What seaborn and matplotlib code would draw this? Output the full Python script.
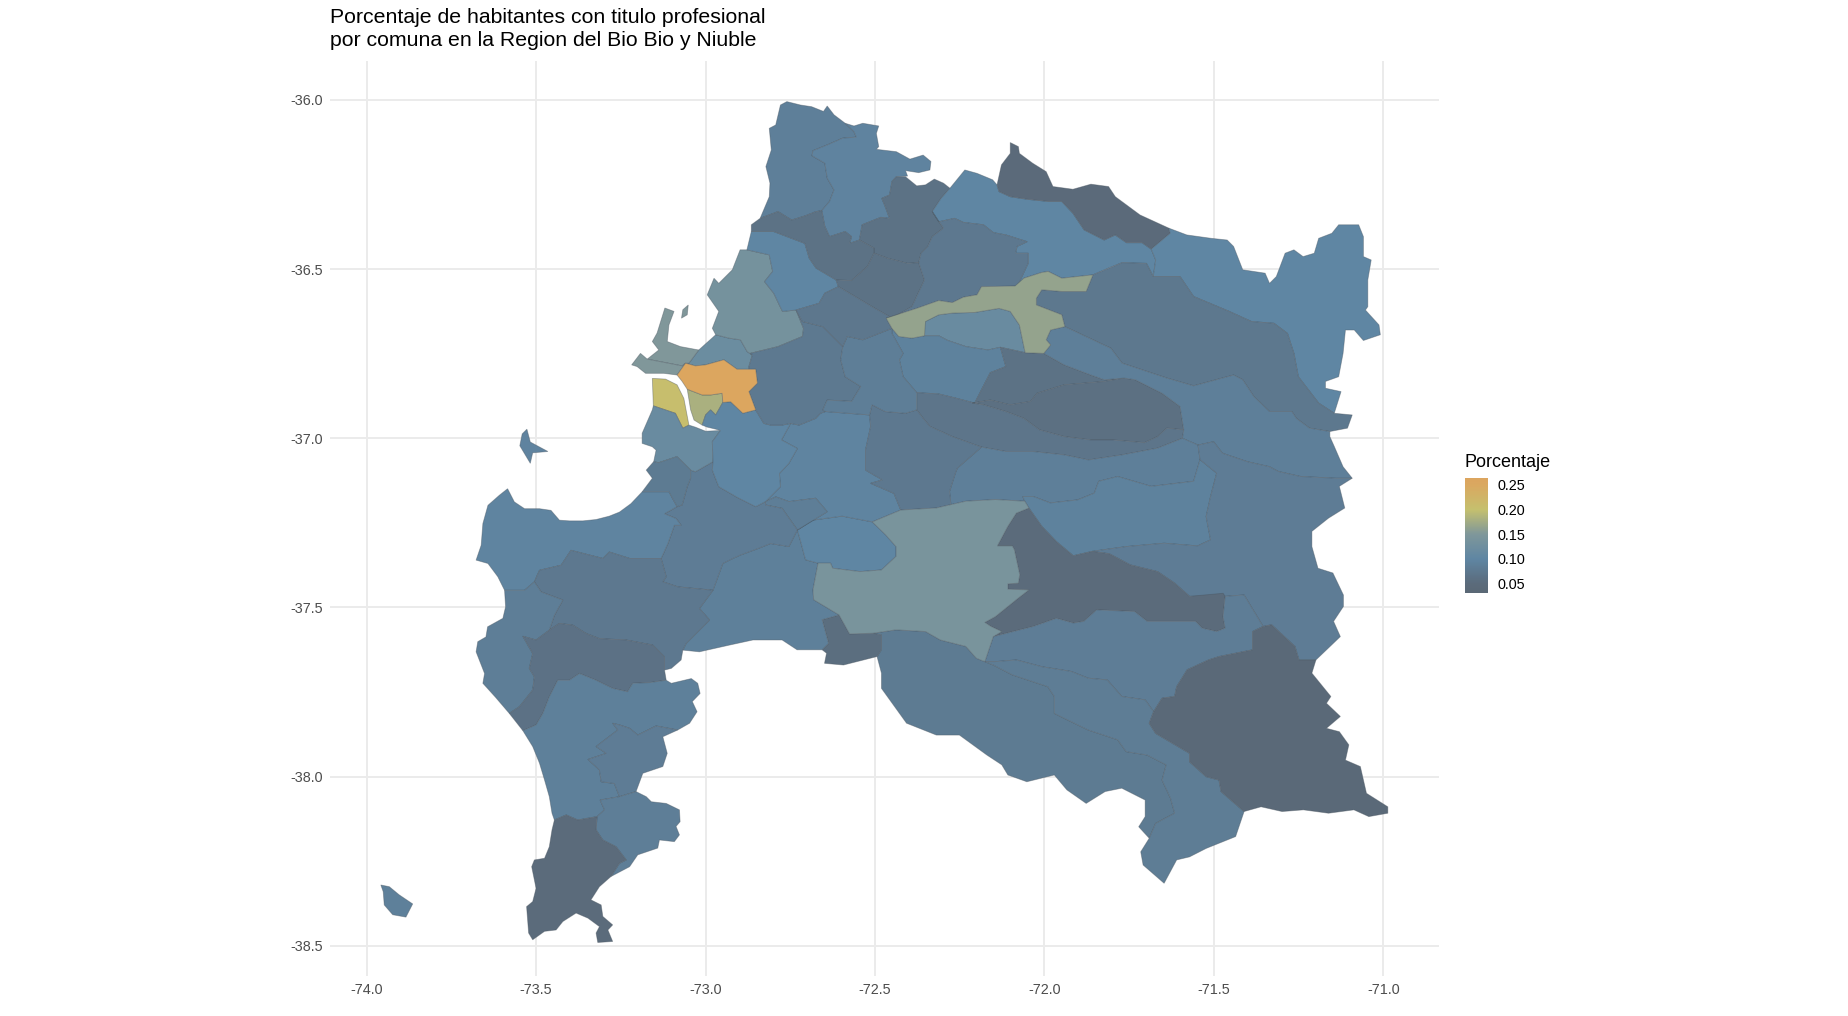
import matplotlib
matplotlib.use("Agg")
import matplotlib.pyplot as plt
from matplotlib.colors import LinearSegmentedColormap, Normalize
from matplotlib.cm import ScalarMappable
import seaborn as sns

# commune outlines, (lon, lat)
cobquecura = [(-72.779,-36.015),(-72.760,-36.005),(-72.720,-36.015),(-72.687,-36.020),(-72.652,-36.034),(-72.641,-36.018),(-72.621,-36.044),(-72.588,-36.069),(-72.562,-36.094),(-72.555,-36.110),(-72.595,-36.113),(-72.641,-36.133),(-72.683,-36.150),(-72.686,-36.165),(-72.648,-36.187),(-72.641,-36.231),(-72.621,-36.266),(-72.634,-36.300),(-72.657,-36.327),(-72.674,-36.330),(-72.707,-36.343),(-72.746,-36.355),(-72.786,-36.330),(-72.839,-36.350),(-72.812,-36.286),(-72.810,-36.246),(-72.822,-36.197),(-72.806,-36.148),(-72.812,-36.084),(-72.793,-36.074)]
quirihue = [(-72.588,-36.069),(-72.562,-36.077),(-72.536,-36.069),(-72.489,-36.077),(-72.496,-36.099),(-72.489,-36.138),(-72.496,-36.146),(-72.437,-36.153),(-72.397,-36.175),(-72.358,-36.163),(-72.335,-36.182),(-72.338,-36.207),(-72.371,-36.215),(-72.410,-36.209),(-72.404,-36.225),(-72.437,-36.227),(-72.450,-36.241),(-72.457,-36.281),(-72.480,-36.291),(-72.470,-36.315),(-72.457,-36.350),(-72.483,-36.347),(-72.538,-36.369),(-72.546,-36.414),(-72.575,-36.424),(-72.569,-36.404),(-72.588,-36.389),(-72.634,-36.404),(-72.648,-36.374),(-72.657,-36.327),(-72.634,-36.300),(-72.621,-36.266),(-72.641,-36.231),(-72.648,-36.187),(-72.686,-36.165),(-72.683,-36.150),(-72.641,-36.133),(-72.595,-36.113),(-72.555,-36.110),(-72.562,-36.094)]
san_carlos_n = [(-72.437,-36.227),(-72.410,-36.227),(-72.377,-36.254),(-72.351,-36.251),(-72.325,-36.234),(-72.298,-36.246),(-72.279,-36.261),(-72.305,-36.291),(-72.331,-36.330),(-72.298,-36.379),(-72.331,-36.404),(-72.344,-36.433),(-72.364,-36.453),(-72.371,-36.481),(-72.404,-36.483),(-72.463,-36.468),(-72.503,-36.453),(-72.503,-36.438),(-72.546,-36.414),(-72.538,-36.369),(-72.483,-36.347),(-72.457,-36.350),(-72.470,-36.315),(-72.480,-36.291),(-72.457,-36.281),(-72.450,-36.241)]
coihueco = [(-72.279,-36.261),(-72.235,-36.207),(-72.199,-36.217),(-72.153,-36.236),(-72.140,-36.251),(-72.134,-36.271),(-72.101,-36.286),(-72.048,-36.294),(-71.989,-36.300),(-71.949,-36.300),(-71.916,-36.335),(-71.883,-36.384),(-71.824,-36.414),(-71.791,-36.399),(-71.758,-36.422),(-71.712,-36.422),(-71.685,-36.441),(-71.672,-36.473),(-71.679,-36.522),(-71.699,-36.483),(-71.771,-36.481),(-71.811,-36.497),(-71.857,-36.517),(-71.949,-36.527),(-71.989,-36.507),(-72.008,-36.510),(-72.061,-36.527),(-72.081,-36.552),(-72.048,-36.483),(-72.048,-36.453),(-72.085,-36.453),(-72.081,-36.433),(-72.051,-36.419),(-72.114,-36.399),(-72.151,-36.392),(-72.180,-36.369),(-72.239,-36.362),(-72.265,-36.350),(-72.312,-36.360),(-72.331,-36.330),(-72.305,-36.291)]
san_fabian = [(-72.101,-36.126),(-72.077,-36.138),(-72.074,-36.158),(-72.035,-36.187),(-71.995,-36.212),(-71.975,-36.256),(-71.916,-36.264),(-71.863,-36.249),(-71.811,-36.256),(-71.791,-36.286),(-71.718,-36.340),(-71.633,-36.379),(-71.629,-36.394),(-71.685,-36.441),(-71.712,-36.422),(-71.758,-36.422),(-71.791,-36.399),(-71.824,-36.414),(-71.883,-36.384),(-71.916,-36.335),(-71.949,-36.300),(-71.989,-36.300),(-72.048,-36.294),(-72.101,-36.286),(-72.134,-36.271),(-72.140,-36.251),(-72.127,-36.192),(-72.101,-36.158)]
pinto = [(-71.633,-36.379),(-71.580,-36.399),(-71.508,-36.409),(-71.461,-36.414),(-71.442,-36.433),(-71.415,-36.502),(-71.349,-36.512),(-71.336,-36.542),(-71.316,-36.522),(-71.290,-36.453),(-71.264,-36.443),(-71.237,-36.463),(-71.204,-36.453),(-71.191,-36.409),(-71.152,-36.394),(-71.132,-36.369),(-71.073,-36.369),(-71.059,-36.404),(-71.059,-36.463),(-71.036,-36.473),(-71.046,-36.532),(-71.046,-36.611),(-71.053,-36.621),(-71.013,-36.665),(-71.009,-36.694),(-71.059,-36.711),(-71.086,-36.680),(-71.112,-36.680),(-71.119,-36.749),(-71.132,-36.818),(-71.171,-36.832),(-71.171,-36.852),(-71.125,-36.862),(-71.145,-36.926),(-71.191,-36.896),(-71.251,-36.818),(-71.264,-36.749),(-71.283,-36.690),(-71.323,-36.660),(-71.389,-36.655),(-71.455,-36.625),(-71.560,-36.581),(-71.600,-36.522),(-71.679,-36.522),(-71.672,-36.473),(-71.685,-36.441),(-71.629,-36.394)]
el_carmen = [(-72.024,-36.586),(-72.008,-36.561),(-71.949,-36.566),(-71.877,-36.566),(-71.857,-36.517),(-71.771,-36.481),(-71.699,-36.483),(-71.679,-36.522),(-71.600,-36.522),(-71.560,-36.581),(-71.455,-36.625),(-71.389,-36.655),(-71.323,-36.660),(-71.283,-36.690),(-71.264,-36.749),(-71.251,-36.818),(-71.191,-36.896),(-71.145,-36.926),(-71.092,-36.931),(-71.106,-36.970),(-71.158,-36.980),(-71.218,-36.970),(-71.257,-36.941),(-71.270,-36.921),(-71.336,-36.921),(-71.382,-36.877),(-71.415,-36.827),(-71.442,-36.813),(-71.560,-36.845),(-71.639,-36.822),(-71.771,-36.778),(-71.804,-36.734),(-71.940,-36.670),(-71.949,-36.635),(-72.024,-36.606)]
chillan_viejo = [(-72.467,-36.645),(-72.377,-36.616),(-72.312,-36.593),(-72.272,-36.599),(-72.239,-36.583),(-72.199,-36.576),(-72.186,-36.552),(-72.087,-36.550),(-72.061,-36.527),(-72.008,-36.510),(-71.989,-36.507),(-71.949,-36.527),(-71.857,-36.517),(-71.877,-36.566),(-71.949,-36.566),(-72.008,-36.561),(-72.024,-36.586),(-72.024,-36.606),(-71.949,-36.635),(-71.940,-36.670),(-71.982,-36.680),(-71.995,-36.709),(-71.982,-36.724),(-72.002,-36.749),(-72.057,-36.747),(-72.074,-36.665),(-72.101,-36.625),(-72.134,-36.616),(-72.206,-36.628),(-72.272,-36.630),(-72.312,-36.635),(-72.351,-36.655),(-72.354,-36.697),(-72.391,-36.704),(-72.430,-36.699),(-72.450,-36.675)]
chillan = [(-72.354,-36.655),(-72.312,-36.635),(-72.272,-36.630),(-72.206,-36.628),(-72.134,-36.616),(-72.101,-36.625),(-72.074,-36.665),(-72.057,-36.747),(-72.130,-36.731),(-72.167,-36.739),(-72.232,-36.729),(-72.285,-36.711),(-72.312,-36.697),(-72.354,-36.697)]
bulnes = [(-72.450,-36.675),(-72.430,-36.699),(-72.391,-36.704),(-72.354,-36.697),(-72.312,-36.697),(-72.285,-36.711),(-72.232,-36.729),(-72.167,-36.739),(-72.130,-36.731),(-72.114,-36.788),(-72.160,-36.806),(-72.206,-36.896),(-72.259,-36.882),(-72.312,-36.869),(-72.377,-36.865),(-72.417,-36.818),(-72.428,-36.768),(-72.417,-36.749),(-72.450,-36.690)]
pemuco = [(-72.130,-36.731),(-72.057,-36.747),(-72.002,-36.749),(-71.942,-36.783),(-71.863,-36.813),(-71.824,-36.827),(-71.765,-36.822),(-71.824,-36.832),(-71.942,-36.842),(-72.022,-36.867),(-72.041,-36.891),(-72.101,-36.901),(-72.160,-36.887),(-72.213,-36.896),(-72.206,-36.896),(-72.160,-36.806),(-72.114,-36.788)]
el_carmen_s = [(-72.213,-36.896),(-72.160,-36.887),(-72.101,-36.901),(-72.041,-36.891),(-72.022,-36.867),(-71.942,-36.842),(-71.824,-36.832),(-71.765,-36.822),(-71.732,-36.827),(-71.653,-36.867),(-71.600,-36.906),(-71.589,-36.975),(-71.639,-36.970),(-71.666,-36.995),(-71.705,-37.013),(-71.798,-37.005),(-71.863,-37.005),(-71.942,-36.995),(-72.015,-36.975),(-72.061,-36.941),(-72.114,-36.921),(-72.180,-36.901)]
pemuco_s = [(-72.377,-36.865),(-72.312,-36.869),(-72.259,-36.882),(-72.206,-36.896),(-72.213,-36.896),(-72.180,-36.901),(-72.114,-36.921),(-72.061,-36.941),(-72.015,-36.975),(-71.942,-36.995),(-71.863,-37.005),(-71.798,-37.005),(-71.705,-37.013),(-71.666,-36.995),(-71.639,-36.970),(-71.589,-36.975),(-71.593,-37.000),(-71.666,-37.029),(-71.771,-37.049),(-71.870,-37.064),(-71.942,-37.049),(-72.035,-37.039),(-72.114,-37.039),(-72.186,-37.026),(-72.272,-36.995),(-72.338,-36.965),(-72.358,-36.941),(-72.377,-36.916)]
yungay = [(-72.002,-36.749),(-71.982,-36.724),(-71.995,-36.709),(-71.982,-36.680),(-71.940,-36.670),(-71.804,-36.734),(-71.771,-36.778),(-71.639,-36.822),(-71.560,-36.845),(-71.442,-36.813),(-71.415,-36.827),(-71.382,-36.877),(-71.336,-36.921),(-71.270,-36.921),(-71.257,-36.941),(-71.218,-36.970),(-71.158,-36.980),(-71.158,-36.995),(-71.145,-37.024),(-71.119,-37.084),(-71.092,-37.118),(-71.139,-37.118),(-71.244,-37.113),(-71.310,-37.098),(-71.336,-37.084),(-71.402,-37.069),(-71.475,-37.044),(-71.501,-37.010),(-71.547,-37.020),(-71.593,-37.000),(-71.589,-36.975),(-71.600,-36.906),(-71.653,-36.867),(-71.732,-36.827),(-71.765,-36.822),(-71.824,-36.827),(-71.863,-36.813),(-71.942,-36.783)]
tucapel = [(-72.186,-37.026),(-72.114,-37.039),(-72.035,-37.039),(-71.942,-37.049),(-71.870,-37.064),(-71.771,-37.049),(-71.666,-37.029),(-71.593,-37.000),(-71.547,-37.020),(-71.541,-37.063),(-71.560,-37.127),(-71.685,-37.142),(-71.784,-37.113),(-71.840,-37.127),(-71.853,-37.162),(-71.902,-37.182),(-71.983,-37.191),(-72.033,-37.172),(-72.064,-37.172),(-72.058,-37.186),(-72.145,-37.181),(-72.232,-37.186),(-72.276,-37.196),(-72.280,-37.157),(-72.263,-37.103),(-72.257,-37.088)]
antuco_w = [(-72.064,-37.172),(-72.033,-37.172),(-71.983,-37.191),(-71.902,-37.182),(-71.853,-37.162),(-71.840,-37.127),(-71.784,-37.113),(-71.685,-37.142),(-71.560,-37.127),(-71.541,-37.063),(-71.492,-37.103),(-71.510,-37.172),(-71.523,-37.231),(-71.510,-37.300),(-71.548,-37.318),(-71.647,-37.310),(-71.759,-37.320),(-71.859,-37.334),(-71.915,-37.347),(-71.965,-37.305),(-72.008,-37.260),(-72.046,-37.206),(-72.058,-37.186)]
antuco = [(-71.547,-37.020),(-71.501,-37.010),(-71.475,-37.044),(-71.402,-37.069),(-71.336,-37.084),(-71.310,-37.098),(-71.244,-37.113),(-71.139,-37.118),(-71.092,-37.118),(-71.130,-37.142),(-71.114,-37.206),(-71.162,-37.236),(-71.211,-37.275),(-71.211,-37.320),(-71.193,-37.384),(-71.149,-37.398),(-71.118,-37.463),(-71.118,-37.497),(-71.147,-37.541),(-71.127,-37.586),(-71.199,-37.655),(-71.249,-37.655),(-71.261,-37.615),(-71.330,-37.551),(-71.355,-37.556),(-71.411,-37.463),(-71.467,-37.467),(-71.572,-37.467),(-71.616,-37.428),(-71.666,-37.394),(-71.747,-37.374),(-71.809,-37.341),(-71.859,-37.334),(-71.759,-37.320),(-71.647,-37.310),(-71.548,-37.318),(-71.510,-37.300),(-71.523,-37.231),(-71.510,-37.172),(-71.492,-37.103),(-71.541,-37.063)]
quilleco = [(-72.083,-37.221),(-72.046,-37.206),(-72.008,-37.260),(-71.965,-37.305),(-71.915,-37.347),(-71.859,-37.334),(-71.809,-37.341),(-71.747,-37.374),(-71.666,-37.394),(-71.616,-37.428),(-71.572,-37.467),(-71.473,-37.458),(-71.467,-37.467),(-71.473,-37.527),(-71.467,-37.561),(-71.492,-37.571),(-71.535,-37.561),(-71.554,-37.541),(-71.647,-37.541),(-71.697,-37.541),(-71.734,-37.512),(-71.846,-37.507),(-71.884,-37.541),(-71.915,-37.546),(-71.965,-37.532),(-72.033,-37.556),(-72.151,-37.586),(-72.126,-37.571),(-72.158,-37.556),(-72.176,-37.544),(-72.145,-37.527),(-72.077,-37.472),(-72.046,-37.448),(-72.108,-37.446),(-72.108,-37.430),(-72.077,-37.428),(-72.073,-37.403),(-72.089,-37.329),(-72.095,-37.318),(-72.139,-37.318),(-72.108,-37.260)]
los_angeles = [(-72.508,-37.247),(-72.424,-37.212),(-72.319,-37.206),(-72.276,-37.196),(-72.232,-37.186),(-72.145,-37.181),(-72.058,-37.186),(-72.046,-37.206),(-72.083,-37.221),(-72.108,-37.260),(-72.139,-37.318),(-72.095,-37.318),(-72.089,-37.329),(-72.073,-37.403),(-72.077,-37.428),(-72.108,-37.430),(-72.108,-37.446),(-72.046,-37.448),(-72.077,-37.472),(-72.145,-37.527),(-72.176,-37.544),(-72.158,-37.556),(-72.126,-37.571),(-72.151,-37.586),(-72.176,-37.660),(-72.201,-37.650),(-72.232,-37.615),(-72.307,-37.596),(-72.351,-37.571),(-72.438,-37.566),(-72.506,-37.576),(-72.575,-37.578),(-72.606,-37.522),(-72.681,-37.477),(-72.683,-37.448),(-72.668,-37.369),(-72.631,-37.369),(-72.625,-37.384),(-72.544,-37.394),(-72.481,-37.389),(-72.438,-37.349),(-72.438,-37.320),(-72.469,-37.285)]
santa_barbara = [(-72.151,-37.586),(-72.033,-37.556),(-71.965,-37.532),(-71.915,-37.546),(-71.884,-37.541),(-71.846,-37.507),(-71.734,-37.512),(-71.697,-37.541),(-71.554,-37.541),(-71.535,-37.561),(-71.492,-37.571),(-71.467,-37.561),(-71.473,-37.527),(-71.467,-37.467),(-71.411,-37.463),(-71.355,-37.556),(-71.386,-37.571),(-71.386,-37.625),(-71.485,-37.645),(-71.516,-37.655),(-71.579,-37.684),(-71.610,-37.734),(-71.616,-37.763),(-71.653,-37.768),(-71.678,-37.808),(-71.703,-37.773),(-71.772,-37.763),(-71.815,-37.714),(-71.871,-37.709),(-71.921,-37.689),(-72.008,-37.675),(-72.083,-37.655),(-72.145,-37.660),(-72.176,-37.660)]
mulchen = [(-72.481,-37.596),(-72.481,-37.625),(-72.494,-37.645),(-72.481,-37.694),(-72.481,-37.739),(-72.407,-37.842),(-72.319,-37.877),(-72.251,-37.877),(-72.170,-37.936),(-72.126,-37.965),(-72.108,-37.995),(-72.052,-38.015),(-71.971,-37.995),(-71.934,-38.039),(-71.877,-38.079),(-71.821,-38.044),(-71.772,-38.034),(-71.703,-38.069),(-71.703,-38.118),(-71.722,-38.148),(-71.691,-38.182),(-71.672,-38.138),(-71.616,-38.108),(-71.628,-38.064),(-71.653,-38.010),(-71.641,-37.965),(-71.697,-37.936),(-71.759,-37.926),(-71.784,-37.891),(-71.871,-37.862),(-71.971,-37.813),(-71.971,-37.763),(-71.990,-37.734),(-72.095,-37.699),(-72.151,-37.670),(-72.176,-37.660),(-72.201,-37.650),(-72.232,-37.615),(-72.307,-37.596),(-72.351,-37.571),(-72.438,-37.566),(-72.506,-37.576),(-72.481,-37.581)]
quilaco = [(-72.176,-37.660),(-72.145,-37.660),(-72.083,-37.655),(-72.008,-37.675),(-71.921,-37.689),(-71.871,-37.709),(-71.815,-37.714),(-71.772,-37.763),(-71.703,-37.773),(-71.678,-37.808),(-71.691,-37.842),(-71.672,-37.872),(-71.572,-37.931),(-71.572,-37.956),(-71.523,-38.000),(-71.485,-38.010),(-71.479,-38.044),(-71.411,-38.103),(-71.436,-38.177),(-71.523,-38.212),(-71.572,-38.237),(-71.610,-38.246),(-71.647,-38.315),(-71.709,-38.261),(-71.716,-38.222),(-71.691,-38.182),(-71.672,-38.138),(-71.616,-38.108),(-71.628,-38.064),(-71.653,-38.010),(-71.641,-37.965),(-71.697,-37.936),(-71.759,-37.926),(-71.784,-37.891),(-71.871,-37.862),(-71.971,-37.813),(-71.971,-37.763),(-71.990,-37.734),(-72.095,-37.699),(-72.151,-37.670)]
alto_biobio = [(-71.386,-37.571),(-71.355,-37.556),(-71.330,-37.551),(-71.261,-37.615),(-71.249,-37.655),(-71.199,-37.655),(-71.211,-37.694),(-71.155,-37.763),(-71.168,-37.783),(-71.127,-37.822),(-71.168,-37.857),(-71.130,-37.867),(-71.102,-37.906),(-71.112,-37.951),(-71.068,-37.970),(-71.050,-38.049),(-70.987,-38.089),(-70.987,-38.108),(-71.043,-38.118),(-71.087,-38.098),(-71.162,-38.108),(-71.236,-38.098),(-71.299,-38.103),(-71.361,-38.089),(-71.411,-38.103),(-71.479,-38.044),(-71.485,-38.010),(-71.523,-38.000),(-71.572,-37.956),(-71.572,-37.931),(-71.672,-37.872),(-71.691,-37.842),(-71.678,-37.808),(-71.653,-37.768),(-71.616,-37.763),(-71.610,-37.734),(-71.579,-37.684),(-71.516,-37.655),(-71.485,-37.645),(-71.386,-37.625)]
negrete = [(-72.656,-37.536),(-72.606,-37.522),(-72.575,-37.578),(-72.506,-37.576),(-72.481,-37.581),(-72.481,-37.625),(-72.494,-37.645),(-72.593,-37.670),(-72.649,-37.665),(-72.643,-37.635),(-72.656,-37.625),(-72.637,-37.606)]
nacimiento = [(-72.729,-37.271),(-72.718,-37.310),(-72.705,-37.359),(-72.668,-37.369),(-72.683,-37.448),(-72.681,-37.477),(-72.606,-37.522),(-72.656,-37.536),(-72.637,-37.606),(-72.656,-37.625),(-72.730,-37.625),(-72.774,-37.596),(-72.842,-37.596),(-72.860,-37.596),(-72.929,-37.611),(-73.018,-37.631),(-73.067,-37.626),(-73.057,-37.606),(-72.988,-37.537),(-73.018,-37.503),(-72.978,-37.449),(-72.949,-37.370),(-72.919,-37.355),(-72.897,-37.345),(-72.843,-37.325),(-72.808,-37.311),(-72.754,-37.320)]
laja = [(-72.729,-37.271),(-72.685,-37.242),(-72.597,-37.230),(-72.508,-37.247),(-72.469,-37.285),(-72.438,-37.320),(-72.438,-37.349),(-72.481,-37.389),(-72.544,-37.394),(-72.625,-37.384),(-72.631,-37.369),(-72.668,-37.369),(-72.705,-37.359),(-72.718,-37.310)]
cabrero = [(-72.749,-36.956),(-72.724,-36.961),(-72.675,-36.941),(-72.661,-36.926),(-72.646,-36.921),(-72.516,-36.931),(-72.513,-36.965),(-72.528,-37.035),(-72.528,-37.094),(-72.478,-37.123),(-72.513,-37.133),(-72.444,-37.163),(-72.424,-37.212),(-72.508,-37.247),(-72.597,-37.230),(-72.685,-37.242),(-72.729,-37.271),(-72.641,-37.217),(-72.675,-37.177),(-72.754,-37.187),(-72.793,-37.173),(-72.823,-37.187),(-72.779,-37.143),(-72.782,-37.104),(-72.754,-37.074),(-72.729,-37.030),(-72.776,-37.005)]
san_rosendo = [(-72.823,-37.187),(-72.793,-37.173),(-72.754,-37.187),(-72.675,-37.177),(-72.641,-37.217),(-72.729,-37.271),(-72.774,-37.207),(-72.823,-37.197)]
yumbel = [(-72.516,-36.931),(-72.509,-36.901),(-72.470,-36.921),(-72.410,-36.926),(-72.377,-36.916),(-72.358,-36.941),(-72.338,-36.965),(-72.272,-36.995),(-72.186,-37.026),(-72.257,-37.088),(-72.263,-37.103),(-72.280,-37.157),(-72.276,-37.196),(-72.319,-37.206),(-72.424,-37.212),(-72.444,-37.163),(-72.513,-37.133),(-72.478,-37.123),(-72.528,-37.094),(-72.528,-37.035),(-72.513,-36.965)]
santa_juana = [(-73.044,-37.094),(-73.030,-37.099),(-72.978,-37.069),(-72.980,-37.094),(-72.961,-37.143),(-72.902,-37.177),(-72.852,-37.202),(-72.823,-37.187),(-72.823,-37.197),(-72.774,-37.207),(-72.729,-37.271),(-72.754,-37.320),(-72.808,-37.311),(-72.843,-37.325),(-72.897,-37.345),(-72.919,-37.355),(-72.949,-37.370),(-72.978,-37.449),(-73.082,-37.439),(-73.126,-37.424),(-73.116,-37.409),(-73.131,-37.355),(-73.111,-37.311),(-73.092,-37.257),(-73.072,-37.257),(-73.087,-37.237),(-73.121,-37.223),(-73.084,-37.202),(-73.069,-37.197),(-73.054,-37.143),(-73.044,-37.118)]
arauco = [(-73.584,-37.149),(-73.564,-37.188),(-73.534,-37.208),(-73.490,-37.208),(-73.456,-37.213),(-73.431,-37.242),(-73.401,-37.244),(-73.362,-37.244),(-73.323,-37.240),(-73.284,-37.230),(-73.254,-37.218),(-73.220,-37.193),(-73.187,-37.158),(-73.108,-37.158),(-73.084,-37.202),(-73.121,-37.223),(-73.087,-37.237),(-73.072,-37.257),(-73.092,-37.257),(-73.111,-37.311),(-73.131,-37.355),(-73.224,-37.355),(-73.284,-37.336),(-73.303,-37.355),(-73.397,-37.331),(-73.426,-37.375),(-73.490,-37.390),(-73.505,-37.424),(-73.534,-37.449),(-73.593,-37.449),(-73.613,-37.409),(-73.642,-37.370),(-73.677,-37.360),(-73.662,-37.316),(-73.657,-37.252),(-73.642,-37.198),(-73.608,-37.168)]
curanilahue = [(-73.490,-37.390),(-73.426,-37.375),(-73.397,-37.331),(-73.303,-37.355),(-73.284,-37.336),(-73.224,-37.355),(-73.131,-37.355),(-73.116,-37.409),(-73.126,-37.424),(-73.082,-37.439),(-72.978,-37.449),(-73.018,-37.503),(-72.988,-37.537),(-73.057,-37.606),(-73.067,-37.626),(-73.072,-37.655),(-73.101,-37.680),(-73.121,-37.685),(-73.121,-37.646),(-73.156,-37.611),(-73.234,-37.596),(-73.313,-37.592),(-73.352,-37.577),(-73.392,-37.552),(-73.431,-37.547),(-73.461,-37.567),(-73.446,-37.523),(-73.421,-37.478),(-73.485,-37.454),(-73.505,-37.424)]
lebu = [(-73.593,-37.449),(-73.534,-37.449),(-73.505,-37.424),(-73.485,-37.454),(-73.421,-37.478),(-73.446,-37.523),(-73.461,-37.567),(-73.500,-37.596),(-73.539,-37.585),(-73.510,-37.636),(-73.520,-37.680),(-73.505,-37.705),(-73.510,-37.744),(-73.549,-37.793),(-73.579,-37.813),(-73.620,-37.765),(-73.657,-37.724),(-73.652,-37.695),(-73.677,-37.631),(-73.672,-37.601),(-73.648,-37.587),(-73.643,-37.557),(-73.598,-37.532),(-73.590,-37.498)]
los_alamos = [(-73.461,-37.567),(-73.431,-37.547),(-73.392,-37.552),(-73.352,-37.577),(-73.313,-37.592),(-73.234,-37.596),(-73.156,-37.611),(-73.121,-37.646),(-73.121,-37.685),(-73.116,-37.715),(-73.165,-37.722),(-73.215,-37.724),(-73.230,-37.749),(-73.274,-37.739),(-73.323,-37.715),(-73.372,-37.695),(-73.402,-37.715),(-73.436,-37.715),(-73.461,-37.764),(-73.480,-37.813),(-73.500,-37.847),(-73.539,-37.864),(-73.579,-37.813),(-73.549,-37.793),(-73.510,-37.744),(-73.505,-37.705),(-73.520,-37.680),(-73.510,-37.636),(-73.539,-37.585),(-73.500,-37.596)]
canete = [(-73.539,-37.864),(-73.500,-37.847),(-73.480,-37.813),(-73.461,-37.764),(-73.436,-37.715),(-73.402,-37.715),(-73.372,-37.695),(-73.323,-37.715),(-73.274,-37.739),(-73.230,-37.749),(-73.215,-37.724),(-73.165,-37.722),(-73.116,-37.715),(-73.101,-37.724),(-73.042,-37.710),(-73.023,-37.724),(-73.016,-37.754),(-73.039,-37.778),(-73.025,-37.808),(-73.047,-37.842),(-73.082,-37.862),(-73.146,-37.850),(-73.200,-37.877),(-73.224,-37.857),(-73.254,-37.847),(-73.274,-37.842),(-73.259,-37.862),(-73.323,-37.911),(-73.293,-37.931),(-73.347,-37.949),(-73.313,-37.980),(-73.308,-38.015),(-73.269,-38.020),(-73.254,-38.059),(-73.311,-38.069),(-73.298,-38.098),(-73.320,-38.118),(-73.377,-38.128),(-73.411,-38.113),(-73.446,-38.128),(-73.453,-38.108),(-73.461,-38.059),(-73.475,-38.010),(-73.490,-37.960),(-73.510,-37.911)]
contulmo = [(-73.274,-37.842),(-73.254,-37.847),(-73.224,-37.857),(-73.200,-37.877),(-73.146,-37.850),(-73.082,-37.862),(-73.126,-37.882),(-73.113,-37.931),(-73.126,-37.970),(-73.185,-37.990),(-73.205,-38.044),(-73.254,-38.059),(-73.269,-38.020),(-73.308,-38.015),(-73.313,-37.980),(-73.347,-37.949),(-73.293,-37.931),(-73.323,-37.911),(-73.259,-37.862)]
tirua_n = [(-73.311,-38.069),(-73.254,-38.059),(-73.205,-38.044),(-73.175,-38.059),(-73.160,-38.074),(-73.116,-38.079),(-73.077,-38.098),(-73.075,-38.133),(-73.087,-38.147),(-73.077,-38.172),(-73.092,-38.192),(-73.136,-38.187),(-73.141,-38.211),(-73.200,-38.231),(-73.224,-38.266),(-73.279,-38.295),(-73.254,-38.256),(-73.234,-38.246),(-73.264,-38.207),(-73.303,-38.187),(-73.323,-38.157),(-73.320,-38.118),(-73.298,-38.098)]
tirua = [(-73.446,-38.128),(-73.411,-38.113),(-73.377,-38.128),(-73.320,-38.118),(-73.323,-38.157),(-73.303,-38.187),(-73.264,-38.207),(-73.234,-38.246),(-73.254,-38.256),(-73.279,-38.295),(-73.313,-38.325),(-73.338,-38.364),(-73.308,-38.379),(-73.303,-38.413),(-73.274,-38.438),(-73.288,-38.453),(-73.274,-38.487),(-73.318,-38.490),(-73.323,-38.462),(-73.313,-38.443),(-73.347,-38.418),(-73.382,-38.403),(-73.421,-38.428),(-73.441,-38.453),(-73.475,-38.457),(-73.510,-38.482),(-73.522,-38.462),(-73.528,-38.384),(-73.510,-38.369),(-73.500,-38.330),(-73.513,-38.266),(-73.505,-38.246),(-73.475,-38.241),(-73.461,-38.207),(-73.453,-38.157)]
mocha = [(-73.958,-38.320),(-73.933,-38.325),(-73.904,-38.349),(-73.864,-38.376),(-73.884,-38.415),(-73.923,-38.408),(-73.948,-38.379),(-73.951,-38.340)]
santa_maria = [(-73.527,-36.973),(-73.517,-37.011),(-73.465,-37.039),(-73.510,-37.043),(-73.517,-37.074),(-73.548,-37.022),(-73.541,-36.987)]
tome = [(-72.898,-36.443),(-72.878,-36.443),(-72.812,-36.458),(-72.802,-36.507),(-72.826,-36.537),(-72.799,-36.571),(-72.773,-36.625),(-72.733,-36.621),(-72.711,-36.675),(-72.714,-36.699),(-72.786,-36.729),(-72.868,-36.749),(-72.862,-36.754),(-72.877,-36.744),(-72.897,-36.709),(-72.931,-36.704),(-72.970,-36.694),(-72.980,-36.675),(-72.961,-36.625),(-72.995,-36.576),(-72.975,-36.527),(-72.961,-36.542),(-72.921,-36.502)]
penco = [(-73.049,-36.778),(-73.020,-36.739),(-72.970,-36.694),(-72.931,-36.704),(-72.897,-36.709),(-72.877,-36.744),(-72.862,-36.754),(-72.872,-36.788),(-72.872,-36.796),(-72.907,-36.796),(-72.946,-36.768),(-73.000,-36.783),(-73.030,-36.786),(-73.059,-36.778)]
talcahuano = [(-73.172,-36.766),(-73.138,-36.739),(-73.157,-36.714),(-73.143,-36.689),(-73.120,-36.615),(-73.093,-36.625),(-73.108,-36.665),(-73.113,-36.714),(-73.074,-36.729),(-73.020,-36.739),(-73.049,-36.778),(-73.059,-36.778),(-73.069,-36.786)]
hualpen = [(-73.218,-36.783),(-73.192,-36.749),(-73.172,-36.766),(-73.069,-36.786),(-73.059,-36.778),(-73.084,-36.813),(-73.123,-36.808),(-73.177,-36.808),(-73.202,-36.788)]
quiriquina = [(-73.071,-36.645),(-73.067,-36.620),(-73.051,-36.606),(-73.054,-36.635)]
concepcion = [(-73.084,-36.813),(-73.059,-36.778),(-73.030,-36.786),(-73.000,-36.783),(-72.946,-36.768),(-72.907,-36.796),(-72.852,-36.796),(-72.847,-36.837),(-72.872,-36.862),(-72.852,-36.916),(-72.890,-36.926),(-72.926,-36.892),(-72.949,-36.894),(-72.951,-36.867),(-72.985,-36.872),(-73.010,-36.872),(-73.054,-36.855),(-73.069,-36.832)]
chiguayante = [(-73.054,-36.855),(-73.010,-36.872),(-72.985,-36.872),(-72.951,-36.867),(-72.949,-36.894),(-72.970,-36.931),(-72.985,-36.916),(-73.000,-36.931),(-73.010,-36.961),(-73.034,-36.946),(-73.044,-36.916)]
san_pedro = [(-73.157,-36.823),(-73.118,-36.825),(-73.084,-36.842),(-73.064,-36.882),(-73.049,-36.961),(-73.067,-36.970),(-73.089,-36.926),(-73.154,-36.904)]
coronel = [(-73.154,-36.904),(-73.089,-36.926),(-73.067,-36.970),(-73.049,-36.961),(-73.030,-36.967),(-73.000,-36.979),(-72.956,-36.977),(-72.980,-37.010),(-72.978,-37.069),(-73.030,-37.099),(-73.044,-37.094),(-73.074,-37.064),(-73.084,-37.054),(-73.138,-37.072),(-73.153,-37.069),(-73.146,-37.035),(-73.157,-37.025),(-73.187,-37.015),(-73.187,-36.985),(-73.157,-36.916)]
hualqui = [(-73.010,-36.961),(-73.000,-36.931),(-72.985,-36.916),(-72.970,-36.931),(-72.949,-36.894),(-72.926,-36.892),(-72.890,-36.926),(-72.852,-36.916),(-72.828,-36.956),(-72.808,-36.961),(-72.774,-36.961),(-72.749,-36.956),(-72.776,-37.005),(-72.729,-37.030),(-72.754,-37.074),(-72.782,-37.104),(-72.779,-37.143),(-72.823,-37.187),(-72.852,-37.202),(-72.902,-37.177),(-72.961,-37.143),(-72.980,-37.094),(-72.978,-37.069),(-72.980,-37.010),(-72.956,-36.977),(-72.970,-36.973),(-72.995,-36.967)]
lota = [(-73.138,-37.072),(-73.084,-37.054),(-73.074,-37.064),(-73.044,-37.094),(-73.044,-37.118),(-73.054,-37.143),(-73.069,-37.197),(-73.084,-37.202),(-73.108,-37.158),(-73.187,-37.158),(-73.157,-37.118),(-73.175,-37.094),(-73.153,-37.069)]
florida = [(-72.733,-36.621),(-72.714,-36.655),(-72.654,-36.670),(-72.595,-36.729),(-72.601,-36.768),(-72.588,-36.818),(-72.542,-36.847),(-72.569,-36.891),(-72.641,-36.887),(-72.654,-36.916),(-72.646,-36.921),(-72.661,-36.926),(-72.675,-36.941),(-72.724,-36.961),(-72.749,-36.956),(-72.774,-36.961),(-72.808,-36.961),(-72.828,-36.956),(-72.852,-36.916),(-72.872,-36.862),(-72.847,-36.837),(-72.852,-36.796),(-72.872,-36.796),(-72.872,-36.788),(-72.862,-36.754),(-72.868,-36.749),(-72.786,-36.729),(-72.714,-36.699),(-72.711,-36.675)]
quillon = [(-72.595,-36.729),(-72.582,-36.699),(-72.536,-36.709),(-72.450,-36.675),(-72.450,-36.690),(-72.417,-36.749),(-72.428,-36.768),(-72.417,-36.818),(-72.377,-36.865),(-72.377,-36.916),(-72.410,-36.926),(-72.470,-36.921),(-72.509,-36.901),(-72.516,-36.931),(-72.646,-36.921),(-72.654,-36.916),(-72.641,-36.887),(-72.569,-36.891),(-72.542,-36.847),(-72.588,-36.818),(-72.601,-36.768)]
coelemu = [(-72.865,-36.389),(-72.799,-36.389),(-72.707,-36.424),(-72.694,-36.468),(-72.674,-36.497),(-72.615,-36.532),(-72.608,-36.552),(-72.648,-36.571),(-72.665,-36.601),(-72.733,-36.621),(-72.773,-36.625),(-72.799,-36.571),(-72.826,-36.537),(-72.802,-36.507),(-72.812,-36.458),(-72.878,-36.443)]
treguaco = [(-72.839,-36.350),(-72.786,-36.330),(-72.746,-36.355),(-72.707,-36.343),(-72.674,-36.330),(-72.657,-36.327),(-72.648,-36.374),(-72.634,-36.404),(-72.588,-36.389),(-72.569,-36.404),(-72.575,-36.424),(-72.546,-36.414),(-72.503,-36.438),(-72.503,-36.453),(-72.522,-36.492),(-72.569,-36.534),(-72.615,-36.532),(-72.674,-36.497),(-72.694,-36.468),(-72.707,-36.424),(-72.799,-36.389),(-72.865,-36.389),(-72.865,-36.369)]
ninhue = [(-72.503,-36.453),(-72.463,-36.468),(-72.404,-36.483),(-72.371,-36.481),(-72.354,-36.532),(-72.391,-36.611),(-72.450,-36.645),(-72.509,-36.611),(-72.608,-36.552),(-72.615,-36.532),(-72.569,-36.534),(-72.522,-36.492)]
portezuelo = [(-72.733,-36.621),(-72.665,-36.601),(-72.648,-36.571),(-72.608,-36.552),(-72.509,-36.611),(-72.450,-36.645),(-72.467,-36.645),(-72.450,-36.675),(-72.536,-36.709),(-72.582,-36.699),(-72.595,-36.729),(-72.654,-36.670),(-72.714,-36.655)]
san_nicolas = [(-72.331,-36.330),(-72.312,-36.360),(-72.265,-36.350),(-72.239,-36.362),(-72.180,-36.369),(-72.151,-36.392),(-72.114,-36.399),(-72.051,-36.419),(-72.081,-36.433),(-72.085,-36.453),(-72.048,-36.453),(-72.048,-36.483),(-72.081,-36.552),(-72.087,-36.550),(-72.186,-36.552),(-72.199,-36.576),(-72.239,-36.583),(-72.272,-36.599),(-72.312,-36.593),(-72.377,-36.616),(-72.467,-36.645),(-72.450,-36.645),(-72.391,-36.611),(-72.354,-36.532),(-72.371,-36.481),(-72.364,-36.453),(-72.344,-36.433),(-72.331,-36.404),(-72.298,-36.379)]

comunas = [cobquecura, quirihue, san_carlos_n, coihueco, san_fabian, pinto, el_carmen, chillan, bulnes, pemuco,
           el_carmen_s, pemuco_s, yungay, tucapel, antuco_w, antuco, quilleco, santa_barbara, mulchen, quilaco,
           alto_biobio, negrete, nacimiento, laja, cabrero, san_rosendo, yumbel, santa_juana, arauco, curanilahue,
           lebu, los_alamos, canete, contulmo, tirua_n, tirua, mocha, santa_maria, penco, tome, talcahuano, hualpen,
           quiriquina, chiguayante, san_pedro, coronel, hualqui, lota, florida, quillon, coelemu, treguaco, ninhue,
           portezuelo, san_nicolas, chillan_viejo, los_angeles, concepcion]
porcentaje = [.088, .095, .063, .100, .046, .100, .074, .115, .092, .063,
              .060, .070, .088, .088, .092, .082, .050, .084, .080, .083,
              .040, .056, .090, .100, .097, .085, .075, .082, .097, .075,
              .085, .062, .090, .082, .085, .050, .090, .095, .120, .135, .150, .150,
              .150, .180, .205, .115, .100, .080, .076, .085, .100, .063, .063,
              .072, .075, .165, .140, .260]

x_ticks = [-74.0, -73.5, -73.0, -72.5, -72.0, -71.5, -71.0]
x_labels = ["-74.0", "-73.5", "-73.0", "-72.5", "-72.0", "-71.5", "-71.0"]
y_ticks = [-38.5, -38.0, -37.5, -37.0, -36.5, -36.0]
y_labels = ["-38.5", "-38.0", "-37.5", "-37.0", "-36.5", "-36.0"]
legend_ticks = [0.05, 0.10, 0.15, 0.20, 0.25]
legend_labels = ["0.05", "0.10", "0.15", "0.20", "0.25"]

sns.set_theme(style="whitegrid", rc={"grid.color": "#EBEBEB", "grid.linewidth": 1.4, "axes.unicode_minus": False})
plt.rcParams["font.family"] = ["Liberation Sans", "DejaVu Sans"]

vmin, vmax = 0.031, 0.2635
stops = [(vmin, "#5A6875"), (0.05, "#5B6B7B"), (0.10, "#5F86A3"), (0.15, "#7F979A"), (0.20, "#C5C06E"), (0.25, "#DAA860"), (vmax, "#DCA55F")]
cmap = LinearSegmentedColormap.from_list("porcentaje", [((v - vmin) / (vmax - vmin), c) for v, c in stops])
norm = Normalize(vmin, vmax)

W, H = 1848, 1016
fig = plt.figure(figsize=(W / 100, H / 100), dpi=100)
ax = fig.add_axes([330 / W, 1 - 976 / H, 1109 / W, 915 / H])

for shape, value in zip(comunas, porcentaje):
    lon, lat = zip(*shape)
    ax.fill(lon, lat, facecolor=cmap(norm(value)), edgecolor=(0.28, 0.32, 0.36, 0.42), linewidth=0.6, zorder=3)

ax.set_xlim(-74.108, -70.836)
ax.set_ylim(-38.589, -35.885)
ax.set_xticks(x_ticks, x_labels)
ax.set_yticks(y_ticks, y_labels)
ax.tick_params(length=0, labelsize=10.4, labelcolor="#4D4D4D", pad=5)
ax.set_axisbelow(True)
sns.despine(ax=ax, left=True, bottom=True)
ax.set_title("Porcentaje de habitantes con titulo profesional\npor comuna en la Region del Bio Bio y Niuble",
             loc="left", fontsize=15.3, color="black", pad=10.5, linespacing=1.3)

cax = fig.add_axes([1465 / W, 1 - 593 / H, 23 / W, 115 / H])
cbar = fig.colorbar(ScalarMappable(norm=norm, cmap=cmap), cax=cax)
cbar.outline.set_visible(False)
cbar.set_ticks(legend_ticks, labels=legend_labels)
cax.tick_params(left=True, right=True, labelleft=False, labelright=True, direction="in", color=(1, 1, 1, 0.6),
                length=3.4, width=0.7, labelsize=10.4, labelcolor="black", pad=6.5)
cax.text(0, 1.06, "Porcentaje", transform=cax.transAxes, fontsize=13, va="bottom", ha="left", color="black")

fig.savefig("out.png", dpi=100, facecolor="white")
